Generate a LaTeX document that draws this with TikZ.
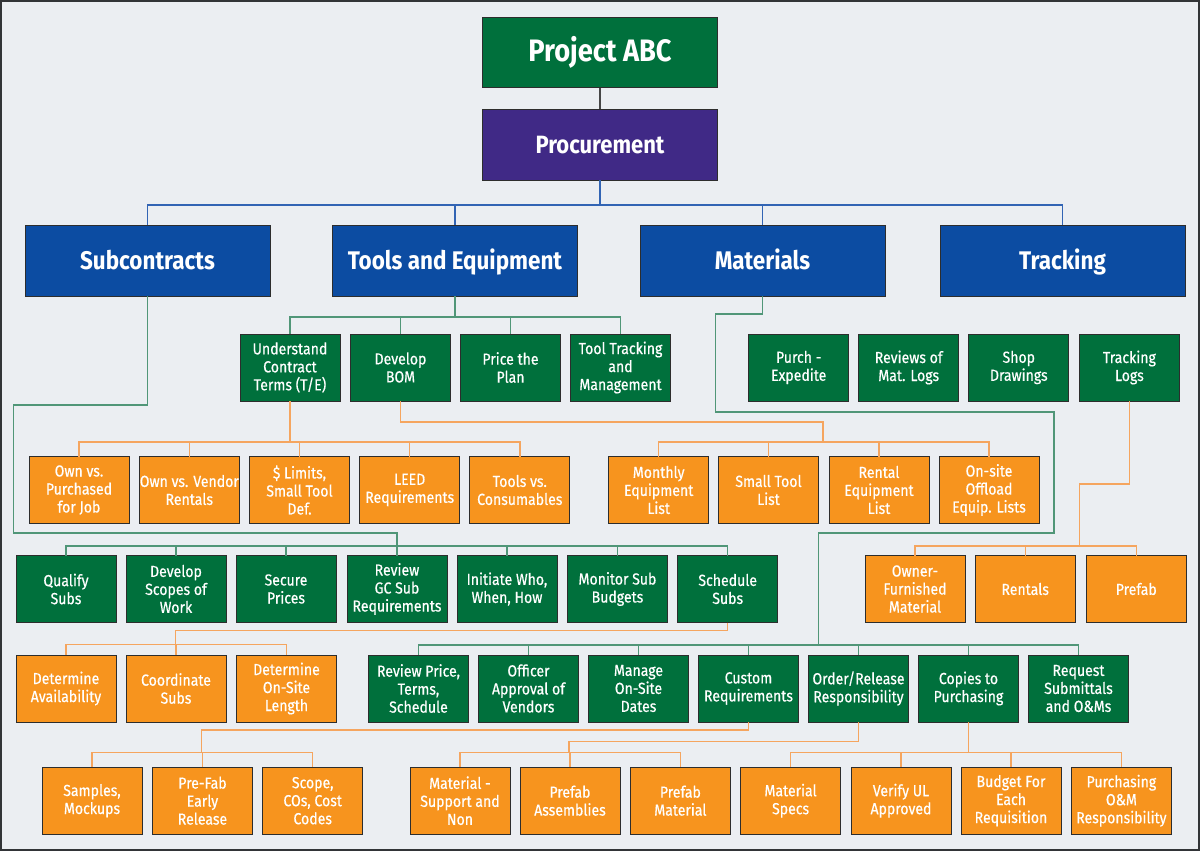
\documentclass[tikz,border=0pt]{standalone}
\usepackage{fontspec}
\setmainfont{Fira Sans}[FakeStretch=0.88]
\newfontfamily\boxfont{Fira Sans}[FakeStretch=0.88, FakeBold=0.5]
\begin{document}
\begin{tikzpicture}[x=1pt,y=-1pt,
  every node/.style={inner sep=0pt, outer sep=0pt},
  bx/.style={draw=boxline, line width=1pt, minimum width=100pt, minimum height=67pt, align=center, text=white, font=\boxfont\fontsize{16}{18}\selectfont},
  gbox/.style={bx, fill=gbox},
  obox/.style={bx, fill=obox},
  catbox/.style={draw=boxline, line width=1pt, fill=bbox, minimum width=245pt, minimum height=71pt, text=white, text height=18pt, text depth=0.5pt, font=\fontsize{25.5}{28}\selectfont\bfseries},
  bl/.style={draw=bline, line width=1.4pt},
  gl/.style={draw=gline, line width=1.4pt},
  ol/.style={draw=oline, line width=1.4pt},
  kl/.style={draw=kline, line width=1.4pt}
]
\definecolor{bg}{RGB}{235,238,242}
\definecolor{frame}{RGB}{50,52,55}
\definecolor{boxline}{RGB}{45,45,45}
\definecolor{gbox}{RGB}{0,112,60}
\definecolor{obox}{RGB}{247,148,30}
\definecolor{bbox}{RGB}{12,76,162}
\definecolor{pbox}{RGB}{64,41,134}
\definecolor{bline}{RGB}{50,100,180}
\definecolor{gline}{RGB}{80,150,120}
\definecolor{oline}{RGB}{245,165,95}
\definecolor{kline}{RGB}{70,70,70}

\useasboundingbox (0,0) rectangle (1200,851);
\draw[frame, line width=2pt, fill=bg] (1,1) rectangle (1199,850);

% top
\node[draw=boxline, line width=1pt, fill=gbox, minimum width=235pt, minimum height=70pt, text=white, text height=22pt, text depth=4pt, font=\fontsize{31}{33}\selectfont\bfseries] (proj) at (600,53) {Project ABC};
\node[draw=boxline, line width=1pt, fill=pbox, minimum width=235pt, minimum height=71pt, text=white, text height=18pt, text depth=0.8pt, font=\fontsize{25}{27}\selectfont\bfseries] (proc) at (600,144.5) {Procurement};

% categories
\node[catbox] (sub) at (147.5,260.5) {Subcontracts};
\node[catbox] (tools) at (455,260.5) {Tools and Equipment};
\node[catbox] (mat) at (762.5,260.5) {Materials};
\node[catbox] (trk) at (1062.5,260.5) {Tracking};

% row A
\node[gbox] (u) at (290,367.5) {Understand\\Contract\\Terms (T/E)};
\node[gbox] (bom) at (400.5,367.5) {Develop\\BOM};
\node[gbox] (price) at (510.5,367.5) {Price the\\Plan};
\node[gbox] (tt) at (620.5,367.5) {Tool Tracking\\and\\Management};
\node[gbox] (pe) at (798.7,367.5) {Purch -\\Expedite};
\node[gbox] (rml) at (908.7,367.5) {Reviews of\\Mat. Logs};
\node[gbox] (shop) at (1018.8,367.5) {Shop\\Drawings};
\node[gbox] (tl) at (1129.4,367.5) {Tracking\\Logs};

% row B
\node[obox] (o1) at (79,490) {Own vs.\\Purchased\\for Job};
\node[obox] (o2) at (189.3,490) {Own vs. Vendor\\Rentals};
\node[obox] (o3) at (299.5,490) {\$ Limits,\\Small Tool\\Def.};
\node[obox] (o4) at (409.7,490) {LEED\\Requirements};
\node[obox] (o5) at (519.8,490) {Tools vs.\\Consumables};
\node[obox] (m1) at (658.7,490) {Monthly\\Equipment\\List};
\node[obox] (m2) at (768.5,490) {Small Tool\\List};
\node[obox] (m3) at (879,490) {Rental\\Equipment\\List};
\node[obox] (m4) at (989,490) {On-site\\Offload\\Equip. Lists};

% row C
\node[gbox] (q) at (66,589) {Qualify\\Subs};
\node[gbox] (ds) at (176,589) {Develop\\Scopes of\\Work};
\node[gbox] (sp) at (286,589) {Secure\\Prices};
\node[gbox] (rgc) at (397,589) {Review\\GC Sub\\Requirements};
\node[gbox] (iw) at (507,589) {Initiate Who,\\When, How};
\node[gbox] (ms) at (617.5,589) {Monitor Sub\\Budgets};
\node[gbox] (ss) at (727.7,589) {Schedule\\Subs};
\node[obox] (ofm) at (915,589) {Owner-\\Furnished\\Material};
\node[obox] (ren) at (1025.2,589) {Rentals};
\node[obox] (pf) at (1136.3,589) {Prefab};

% row D
\node[obox] (da) at (66,688.5) {Determine\\Availability};
\node[obox] (cs) at (176,688.5) {Coordinate\\Subs};
\node[obox] (dol) at (286.5,688.5) {Determine\\On-Site\\Length};
\node[gbox] (rp) at (418.5,688.5) {Review Price,\\Terms,\\Schedule};
\node[gbox] (oa) at (528.5,688.5) {Officer\\Approval of\\Vendors};
\node[gbox] (mos) at (638.5,688.5) {Manage\\On-Site\\Dates};
\node[gbox] (cr) at (748.5,688.5) {Custom\\Requirements};
\node[gbox] (orr) at (858.5,688.5) {Order/Release\\Responsibility};
\node[gbox] (cp) at (968.5,688.5) {Copies to\\Purchasing};
\node[gbox] (rs) at (1078.5,688.5) {Request\\Submittals\\and O\&Ms};

% row E
\node[obox] (sm) at (92,800.7) {Samples,\\Mockups};
\node[obox] (pfe) at (202.5,800.7) {Pre-Fab\\Early\\Release};
\node[obox] (sc) at (312.7,800.7) {Scope,\\COs, Cost\\Codes};
\node[obox] (mso) at (460,800.7) {Material -\\Support and\\Non};
\node[obox] (pa) at (570,800.7) {Prefab\\Assemblies};
\node[obox] (pm) at (680.4,800.7) {Prefab\\Material};
\node[obox] (msp) at (790.6,800.7) {Material\\Specs};
\node[obox] (vul) at (901,800.7) {Verify UL\\Approved};
\node[obox] (bud) at (1011,800.7) {Budget For\\Each\\Requisition};
\node[obox] (pom) at (1121.4,800.7) {Purchasing\\O\&M\\Responsibility};

% coordinates for buses and bends
\coordinate (by) at (0,205);
\coordinate (tA) at (0,317);
\coordinate (uB) at (0,442);
\coordinate (bk1) at (823,422);
\coordinate (bk2) at (823,442);
\coordinate (s1) at (13.5,405);
\coordinate (s2) at (13.5,533);
\coordinate (sC) at (0,546);
\coordinate (mp1) at (715.6,314);
\coordinate (mp2) at (715.6,412);
\coordinate (mp3) at (1054,412);
\coordinate (mp4) at (1054,533);
\coordinate (mp5) at (818.5,533);
\coordinate (mp6) at (818.5,645);
\coordinate (tk1) at (1079.5,484);
\coordinate (tk2) at (1079.5,546);
\coordinate (sk1) at (175.3,630.7);
\coordinate (sk2) at (175.3,644.3);
\coordinate (ck1) at (201.3,730);
\coordinate (ck2) at (201.3,752.7);
\coordinate (ok1) at (569,741.7);
\coordinate (ok2) at (569,752.7);
\coordinate (eB) at (0,752.7);

% connectors
\draw[kl] (proj.south) -- (proc.north);
\draw[bl] (proc.south) -- (proc.south |- by);
\draw[bl] (sub.north) |- (trk.north |- by) -- (trk.north);
\draw[bl] (tools.north) -- (tools.north |- by);
\draw[bl] (mat.north) -- (mat.north |- by);

\draw[gl] (tools.south) -- (tools.south |- tA);
\draw[gl] (u.north) |- (tt.north |- tA) -- (tt.north);
\draw[gl] (bom.north) -- (bom.north |- tA);
\draw[gl] (price.north) -- (price.north |- tA);

\draw[ol] (u.south) -- (u.south |- uB);
\draw[ol] (o1.north) |- (o5.north |- uB) -- (o5.north);
\draw[ol] (o2.north) -- (o2.north |- uB);
\draw[ol] (o3.north) -- (o3.north |- uB);
\draw[ol] (o4.north) -- (o4.north |- uB);

\draw[ol] (bom.south) |- (bk1) -- (bk2);
\draw[ol] (m1.north) |- (m4.north |- bk2) -- (m4.north);
\draw[ol] (m2.north) -- (m2.north |- bk2);
\draw[ol] (m3.north) -- (m3.north |- bk2);

\draw[gl] (sub.south) |- (s1) -- (s2) -| (rgc.north);
\draw[gl] (q.north) |- (ss.north |- sC) -- (ss.north);
\draw[gl] (ds.north) -- (ds.north |- sC);
\draw[gl] (sp.north) -- (sp.north |- sC);
\draw[gl] (iw.north) -- (iw.north |- sC);
\draw[gl] (ms.north) -- (ms.north |- sC);

\draw[gl] (mat.south) |- (mp1) -- (mp2) -- (mp3) -- (mp4) -- (mp5) -- (mp6);
\draw[gl] (rp.north) |- (rs.north |- mp6) -- (rs.north);
\draw[gl] (oa.north) -- (oa.north |- mp6);
\draw[gl] (mos.north) -- (mos.north |- mp6);
\draw[gl] (cr.north) -- (cr.north |- mp6);
\draw[gl] (orr.north) -- (orr.north |- mp6);
\draw[gl] (cp.north) -- (cp.north |- mp6);

\draw[ol] (tl.south) |- (tk1) -- (tk2);
\draw[ol] (ofm.north) |- (pf.north |- tk2) -- (pf.north);
\draw[ol] (ren.north) -- (ren.north |- tk2);

\draw[ol] (ss.south) |- (sk1) -- (sk2);
\draw[ol] (da.north) |- (dol.north |- sk2) -- (dol.north);
\draw[ol] (cs.north) -- (cs.north |- sk2);

\draw[ol] (cr.south) |- (ck1) -- (ck2);
\draw[ol] (sm.north) |- (sc.north |- eB) -- (sc.north);
\draw[ol] (pfe.north) -- (pfe.north |- eB);

\draw[ol] (orr.south) |- (ok1) -- (ok2);
\draw[ol] (mso.north) |- (pm.north |- eB) -- (pm.north);
\draw[ol] (pa.north) -- (pa.north |- eB);

\draw[ol] (cp.south) -- (cp.south |- eB);
\draw[ol] (msp.north) |- (pom.north |- eB) -- (pom.north);
\draw[ol] (vul.north) -- (vul.north |- eB);
\draw[ol] (bud.north) -- (bud.north |- eB);
\end{tikzpicture}
\end{document}
